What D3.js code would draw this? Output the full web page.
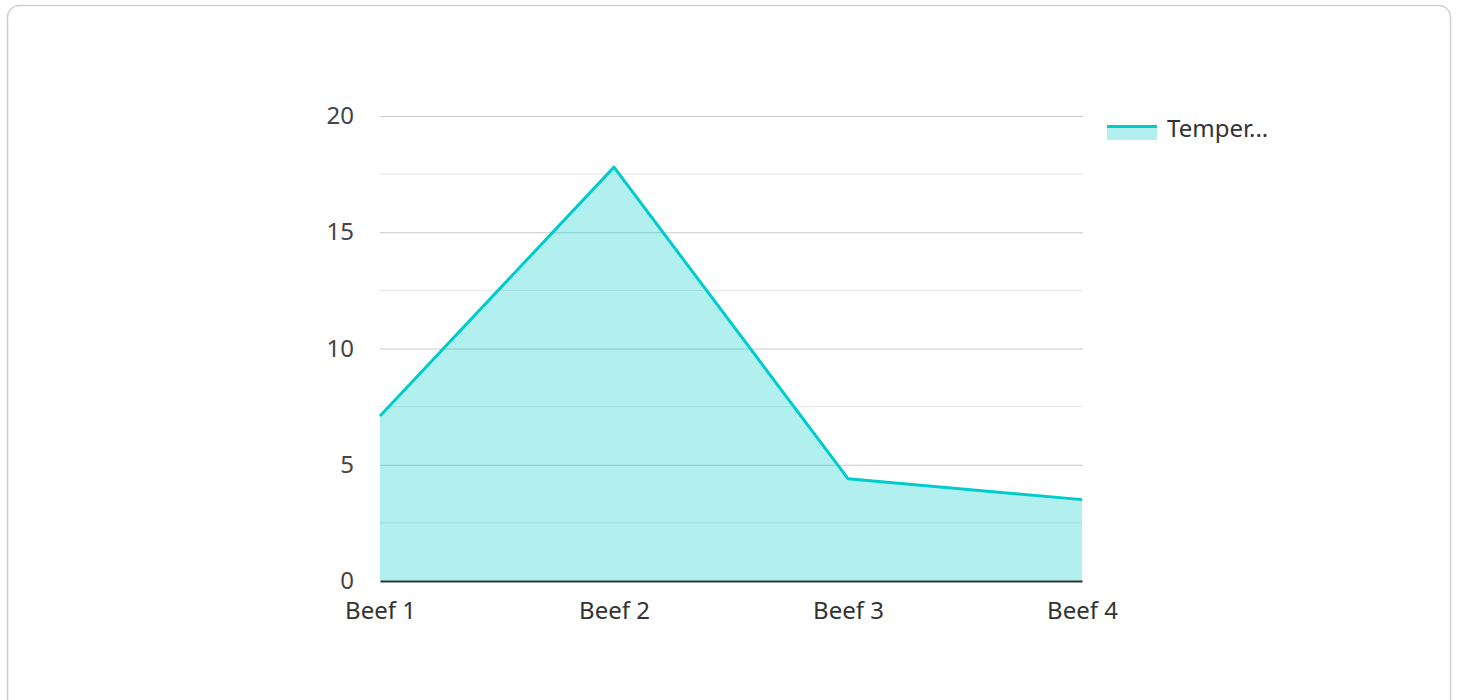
<!DOCTYPE html>
<html>
<head>
<meta charset="utf-8">
<script src="https://cdn.jsdelivr.net/npm/d3@7"></script>
<style>
  html, body { margin: 0; padding: 0; background: #fff; }
  body { width: 1458px; height: 700px; overflow: hidden; font-family: "Noto Sans", "Open Sans", sans-serif; }
</style>
</head>
<body>
<svg id="chart" width="1458" height="700"></svg>
<script>
// chart data
var categories = ["Beef 1", "Beef 2", "Beef 3", "Beef 4"];
var temperature = [7.1, 17.8, 4.4, 3.5];
var seriesName = "Temper...";
var yTicks = [0, 5, 10, 15, 20];
var yMinorTicks = [2.5, 7.5, 12.5, 17.5];

var color = "#00cccc";
var fontSize = "24px";

var svg = d3.select("#chart");

// card frame
svg.append("rect")
    .attr("x", 7.5).attr("y", 5.5)
    .attr("width", 1443).attr("height", 720)
    .attr("rx", 12)
    .attr("fill", "#fff")
    .attr("stroke", "#d0d0d0")
    .attr("stroke-width", 1.5);

var margin = {left: 380, right: 1082, top: 116, bottom: 581};

var x = d3.scalePoint()
    .domain(categories)
    .range([margin.left, margin.right]);

var y = d3.scaleLinear()
    .domain([0, 20])
    .range([margin.bottom, margin.top]);

var data = categories.map(function(c, i) { return {cat: c, v: temperature[i]}; });

// minor grid
svg.append("g").selectAll("line")
    .data(yMinorTicks)
  .enter().append("line")
    .attr("x1", margin.left).attr("x2", margin.right + 1)
    .attr("y1", function(d) { return y(d); })
    .attr("y2", function(d) { return y(d); })
    .attr("stroke", "#e6e6e6")
    .attr("stroke-width", 1);

// major grid + y labels
var yAxis = svg.append("g")
    .attr("transform", "translate(" + margin.left + ",0)")
    .call(d3.axisLeft(y).tickValues(yTicks).tickSize(-(margin.right + 1 - margin.left)).tickPadding(26));
yAxis.select(".domain").remove();
yAxis.selectAll(".tick line")
    .attr("stroke", function(d) { return d === 0 ? "none" : "#c8c8c8"; })
    .attr("stroke-width", 1);
yAxis.selectAll(".tick text")
    .attr("fill", "#444")
    .style("font-size", fontSize)
    .style("font-family", "'Noto Sans', 'Open Sans', sans-serif");

// area
var area = d3.area()
    .x(function(d) { return x(d.cat); })
    .y0(y(0))
    .y1(function(d) { return y(d.v); });

svg.append("path")
    .datum(data)
    .attr("fill", color)
    .attr("fill-opacity", 0.3)
    .attr("d", area);

var line = d3.line()
    .x(function(d) { return x(d.cat); })
    .y(function(d) { return y(d.v); });

svg.append("path")
    .datum(data)
    .attr("fill", "none")
    .attr("stroke", color)
    .attr("stroke-width", 3)
    .attr("stroke-linejoin", "round")
    .attr("d", line);

// x axis
var xAxis = svg.append("g")
    .attr("transform", "translate(0," + y(0) + ")")
    .call(d3.axisBottom(x).tickSize(0).tickPadding(21));
xAxis.select(".domain")
    .attr("stroke", "#333")
    .attr("stroke-width", 2);
xAxis.selectAll(".tick text")
    .attr("fill", "#333")
    .style("font-size", fontSize)
    .style("font-family", "'Noto Sans', 'Open Sans', sans-serif");

// legend
var legend = svg.append("g").attr("transform", "translate(1107,125)");
legend.append("rect")
    .attr("x", 0).attr("y", 0)
    .attr("width", 50).attr("height", 15)
    .attr("fill", color).attr("fill-opacity", 0.3);
legend.append("line")
    .attr("x1", 0).attr("x2", 50)
    .attr("y1", 1.5).attr("y2", 1.5)
    .attr("stroke", color).attr("stroke-width", 3);
legend.append("text")
    .attr("x", 60).attr("y", 12)
    .attr("fill", "#333")
    .style("font-size", fontSize)
    .text(seriesName);
</script>
</body>
</html>
